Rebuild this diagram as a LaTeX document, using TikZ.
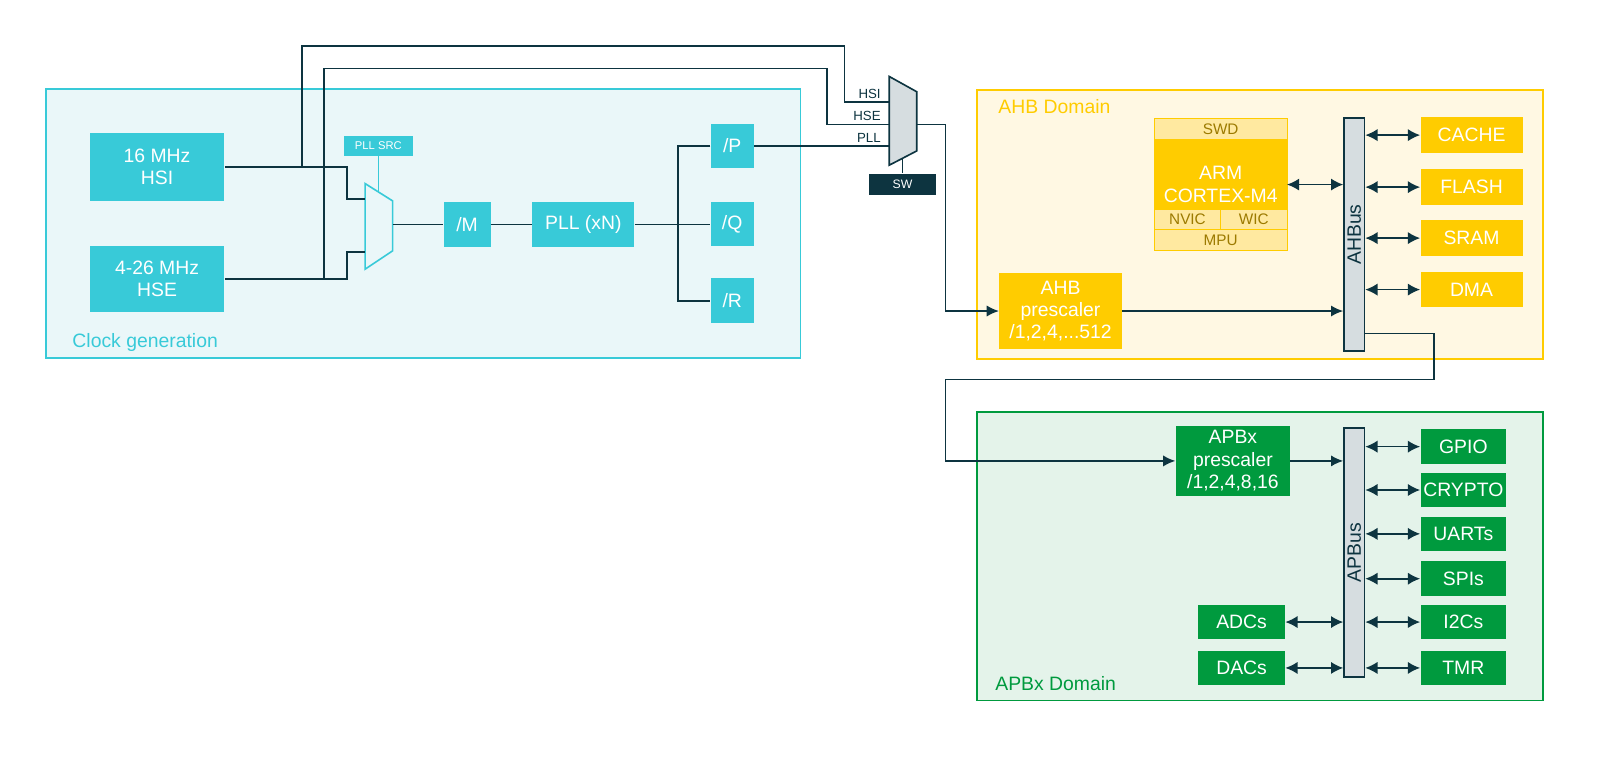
\documentclass[tikz,border=0pt]{standalone}
\usepackage{fontspec}
\setmainfont{Liberation Sans}
\usetikzlibrary{arrows.meta, calc}
\definecolor{clkCyan}{HTML}{38CAD8}
\definecolor{clkBg}{HTML}{EAF7F9}
\definecolor{ahbYellow}{HTML}{FFCC00}
\definecolor{ahbBg}{HTML}{FFF8E3}
\definecolor{ahbLight}{HTML}{FFE9A0}
\definecolor{ahbText}{HTML}{9C7A00}
\definecolor{apbGreen}{HTML}{009A3E}
\definecolor{apbBg}{HTML}{E4F3EA}
\definecolor{wireDark}{HTML}{0D3440}
\definecolor{busGray}{HTML}{D6DDE0}
\tikzset{
  wire/.style={draw=wireDark, line width=0.8pt},
  biarrow/.style={wire, {Latex[length=6pt,width=6pt]}-{Latex[length=6pt,width=6pt]}},
  toarrow/.style={wire, -{Latex[length=6pt,width=5.5pt]}},
  cbox/.style={fill=clkCyan, text=white, inner sep=0pt, font=\fontsize{9.5}{11}\selectfont, align=center},
  ybox/.style={fill=ahbYellow, text=white, inner sep=0pt, font=\fontsize{9.5}{11}\selectfont, align=center},
  gbox/.style={fill=apbGreen, text=white, inner sep=0pt, font=\fontsize{9.5}{11}\selectfont, align=center},
  sublbl/.style={fill=ahbLight, draw=ahbYellow, text=ahbText, inner sep=0pt, font=\fontsize{7.5}{8}\selectfont},
  tiny/.style={font=\fontsize{6.5}{7}\selectfont, text=wireDark, inner sep=1pt},
  bus/.style={fill=busGray, draw=wireDark, line width=0.8pt, inner sep=0pt, font=\fontsize{9.5}{11}\selectfont, text=wireDark},
}
\begin{document}
\begin{tikzpicture}[x=0.5pt, y=-0.5pt]
  \useasboundingbox (0,0) rectangle (1569,742);

  % domains
  \filldraw[fill=clkBg, draw=clkCyan, line width=0.8pt] (45,87) rectangle (785,351);
  \node[anchor=west, text=clkCyan, font=\fontsize{9.5}{11}\selectfont] (lclk) at (64,336) {Clock generation};
  \filldraw[fill=ahbBg, draw=ahbYellow, line width=0.8pt] (958,88) rectangle (1513,352);
  \node[anchor=west, text=ahbYellow, font=\fontsize{9.5}{11}\selectfont] (lahb) at (972,105) {AHB Domain};
  \filldraw[fill=apbBg, draw=apbGreen, line width=0.8pt] (958,404) rectangle (1513,687);
  \node[anchor=west, text=apbGreen, font=\fontsize{9.5}{11}\selectfont] (lapb) at (969,670) {APBx Domain};

  % clock sources
  \node[cbox, minimum width=66pt, minimum height=33.5pt] (hsi) at (154,163.5) {16 MHz\\HSI};
  \node[cbox, minimum width=66pt, minimum height=32.5pt] (hse) at (154,273.5) {4-26 MHz\\HSE};

  % PLL source mux
  \filldraw[fill=clkBg, draw=clkCyan, line width=0.8pt] (358,180) -- (385,197) -- (385,246) -- (358,264) -- cycle;
  \coordinate (srcA) at (358,195);
  \coordinate (srcB) at (358,247);
  \coordinate (srcO) at (385,220);
  \coordinate (srcT) at (371,187);
  \node[cbox, minimum width=34pt, minimum height=10pt, font=\fontsize{5.5}{6}\selectfont] (pllsrc) at (371,143) {PLL SRC};
  \draw[clkCyan, line width=0.8pt] (pllsrc.south) -- (srcT);

  \node[cbox, minimum width=23pt, minimum height=22pt] (divm) at (458,220) {/M};
  \node[cbox, minimum width=50pt, minimum height=22pt] (pll) at (572,220) {PLL (xN)};
  \node[cbox, minimum width=21pt, minimum height=21.5pt] (divp) at (718,143) {/P};
  \node[cbox, minimum width=21pt, minimum height=21.5pt] (divq) at (718,220) {/Q};
  \node[cbox, minimum width=21pt, minimum height=22pt] (divr) at (718,295) {/R};

  \draw[wire] (hsi.east) -- (340,163.5) |- (srcA);
  \draw[wire] (hse.east) -- (340,273.5) |- (srcB);
  \draw[wire] (srcO) -- (divm);
  \draw[wire] (divm) -- (pll);
  \draw[wire] (pll.east) -- (divq.west);
  \draw[wire] (divp.west) -| (665,295) -- (divr.west);

  % system clock mux
  \filldraw[fill=busGray, draw=wireDark, line width=0.8pt] (872,75) -- (899,90) -- (899,148) -- (872,162) -- cycle;
  \coordinate (swA) at (872,100);
  \coordinate (swB) at (872,122);
  \coordinate (swC) at (872,143);
  \coordinate (swO) at (899,122);
  \coordinate (swD) at (885,155);
  \node[fill=wireDark, text=white, minimum width=33pt, minimum height=10.5pt, inner sep=0pt, font=\fontsize{6}{7}\selectfont] (sw) at (885,181) {SW};
  \draw[wire] (swD) -- (sw.north);
  \node[tiny, anchor=south east] (thsi) at (866,99) {HSI};
  \node[tiny, anchor=south east] (thse) at (866,121) {HSE};
  \node[tiny, anchor=south east] (tpll) at (866,142) {PLL};
  \draw[wire] (296,163.5) -- (296,45) -| (828,100) -- (swA);
  \draw[wire] (318,273.5) -- (318,67) -| (811,122) -- (swB);
  \draw[wire] (divp.east) -- (swC);

  % AHB domain
  \node[ybox, minimum width=60pt, minimum height=37pt] (ahbpre) at (1040,305) {AHB\\prescaler\\/1,2,4,...512};
  \node[bus, minimum width=10pt, minimum height=114pt] (ahbus) at (1328,230) {};
  \node[rotate=90, text=wireDark, font=\fontsize{9.5}{11}\selectfont] (tahbus) at (ahbus.center) {AHBus};
  \draw[toarrow] (swO) -- (927,122) |- (ahbpre.west);
  \draw[toarrow] (ahbpre.east) -- (ahbus.west |- ahbpre.east);

  \node[ybox, minimum width=65pt, minimum height=65pt, draw=ahbYellow] (cpu) at (1197,181) {ARM\\CORTEX-M4};
  \node[sublbl, minimum width=65pt, minimum height=10.5pt] (swd) at (1197,126.5) {SWD};
  \node[sublbl, minimum width=32.5pt, minimum height=10pt] (nvic) at (1164.5,215) {NVIC};
  \node[sublbl, minimum width=32.5pt, minimum height=10pt] (wic) at (1229.5,215) {WIC};
  \node[sublbl, minimum width=65pt, minimum height=10.5pt] (mpu) at (1197,235.5) {MPU};
  \draw[biarrow] (1262,181) -- (ahbus.west |- 0,181);

  \foreach \nm/\yy in {CACHE/132.5, FLASH/183.5, SRAM/233.5, DMA/284}{
    \node[ybox, minimum width=50pt, minimum height=17.5pt] (\nm) at (1443,\yy) {\nm};
    \draw[biarrow] (ahbus.east |- \nm.west) -- (\nm.west);
  }

  % APB domain
  \node[gbox, minimum width=56pt, minimum height=34pt] (apbpre) at (1209,452) {APBx\\prescaler\\/1,2,4,8,16};
  \node[bus, minimum width=10pt, minimum height=122pt] (apbus) at (1328,542) {};
  \node[rotate=90, text=wireDark, font=\fontsize{9.5}{11}\selectfont] (tapbus) at (apbus.center) {APBus};
  \draw[toarrow] (ahbus.east |- 0,327) -- (1406,327) -- (1406,372) -- (927,372) |- (apbpre.west);
  \draw[toarrow] (apbpre.east) -- (apbus.west |- apbpre.east);

  \foreach \nm/\yy in {GPIO/438, CRYPTO/480.5, UARTs/523.5, SPIs/567.5, I2Cs/610, TMR/655}{
    \node[gbox, minimum width=42pt, minimum height=17pt] (\nm) at (1435,\yy) {\nm};
    \draw[biarrow] (apbus.east |- \nm.west) -- (\nm.west);
  }
  \foreach \nm/\yy in {ADCs/610, DACs/655}{
    \node[gbox, minimum width=42.5pt, minimum height=17pt] (\nm) at (1217.5,\yy) {\nm};
    \draw[biarrow] (\nm.east) -- (apbus.west |- \nm.east);
  }
\end{tikzpicture}
\end{document}
